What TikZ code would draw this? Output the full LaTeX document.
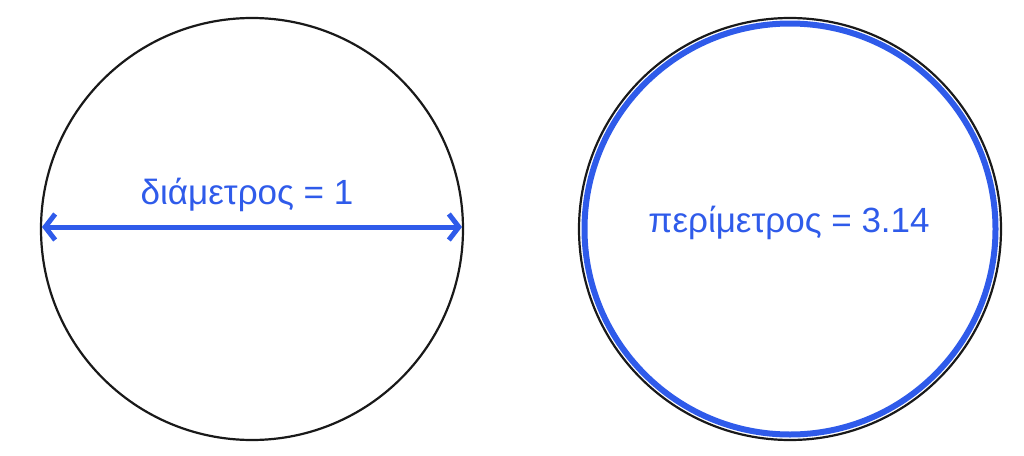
\documentclass[tikz,border=0pt]{standalone}
\usepackage{fontspec}
\setmainfont{Liberation Sans}
\usetikzlibrary{arrows.meta}
\definecolor{bl}{HTML}{2F5BEA}
\begin{document}
\begin{tikzpicture}[x=1pt,y=-1pt,
  lbl/.style={text=bl,font=\fontsize{35}{40}\selectfont,inner sep=0pt}]
\useasboundingbox (0,0) rectangle (1024,455);
\draw[line width=2.2pt,black!90] (252,229) circle[radius=211];
\coordinate (l) at (42,227);
\coordinate (r) at (462,227);
\draw[bl,line width=5pt,{Straight Barb[length=10pt,width=26pt,line width=5pt]}-{Straight Barb[length=10pt,width=26pt,line width=5pt]}] (l) -- (r);
\node[lbl] (d) at (247,195) {διάμετρος = 1};
\draw[line width=2.2pt,black!90] (790,229) circle[radius=211];
\draw[bl,line width=6pt] (790,229) circle[radius=205.5];
\node[lbl] (p) at (789,223) {περίμετρος = 3.14};
\end{tikzpicture}
\end{document}
